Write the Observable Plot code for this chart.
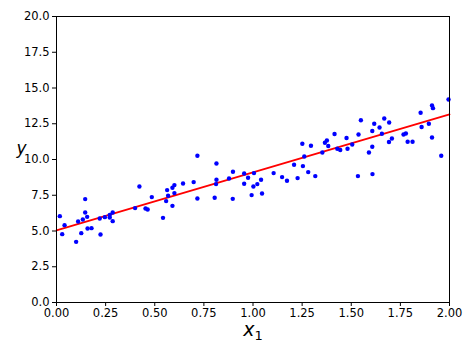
<!DOCTYPE html>
<html>
<head>
<meta charset="utf-8">
<script src="https://cdn.jsdelivr.net/npm/d3@7"></script>
<script src="https://cdn.jsdelivr.net/npm/@observablehq/plot@0.6"></script>
<style>
  body { margin: 0; background: white; }
</style>
</head>
<body>
<div id="chart"></div>
<script>
const xVals = [0.017,0.029,0.041,0.10,0.11,0.126,0.134,0.146,0.146,0.156,0.158,0.178,0.22,0.224,0.246,0.271,0.271,0.286,0.286,0.40,0.422,0.453,0.464,0.485,0.542,0.558,0.568,0.563,0.59,0.59,0.60,0.60,0.644,0.698,0.717,0.717,
0.805,0.814,0.814,0.812,0.878,0.897,0.898,0.955,0.955,0.975,0.993,1.002,1.005,1.022,1.041,1.046,1.105,1.148,1.173,1.209,1.227,1.251,1.254,1.261,1.281,1.295,1.317,1.353,1.366,1.376,1.383,
1.415,1.429,1.444,1.476,1.481,1.505,1.534,1.537,1.549,1.59,1.607,1.607,1.608,1.617,1.644,1.656,1.668,1.692,1.693,1.707,1.766,1.778,1.787,1.812,1.853,1.858,1.895,1.911,1.916,1.911,1.958,1.995];
const yVals = [6.04,4.78,5.41,4.24,5.66,4.85,5.80,7.23,6.29,5.99,5.17,5.20,5.87,4.76,5.97,6.13,5.94,6.29,5.69,6.60,8.11,6.57,6.50,7.37,5.92,7.09,7.46,7.86,6.76,8.02,8.21,7.65,8.32,8.42,10.26,7.27,
7.32,9.72,8.58,8.28,8.67,7.25,9.14,9.02,8.30,8.72,7.51,8.11,9.05,8.28,8.58,7.62,9.05,8.77,8.51,9.63,8.70,11.10,9.54,10.21,9.12,10.96,8.84,10.49,11.17,11.33,10.94,
11.78,10.75,10.66,11.50,10.75,11.05,8.84,11.75,12.75,10.49,10.89,11.99,8.98,12.50,12.24,11.80,12.87,11.22,12.59,11.47,11.75,11.82,11.24,11.24,13.27,12.27,12.50,13.78,13.59,11.54,10.26,14.20];
const lineX = [0, 2];
const lineY = [5.05, 13.15];
const xTicks = [0, 0.25, 0.5, 0.75, 1, 1.25, 1.5, 1.75, 2];
const xTickLabels = ["0.00","0.25","0.50","0.75","1.00","1.25","1.50","1.75","2.00"];
const yTicks = [0, 2.5, 5, 7.5, 10, 12.5, 15, 17.5, 20];
const yTickLabels = ["0.0","2.5","5.0","7.5","10.0","12.5","15.0","17.5","20.0"];

const points = xVals.map((x, i) => ({x, y: yVals[i]}));
const line = lineX.map((x, i) => ({x, y: lineY[i]}));

const chart = Plot.plot({
  width: 474,
  height: 355,
  marginLeft: 56,
  marginRight: 25,
  marginTop: 16,
  marginBottom: 53,
  style: {fontFamily: "DejaVu Sans", fontSize: "11.5px", color: "black", background: "white", overflow: "visible"},
  x: {domain: [0, 2]},
  y: {domain: [0, 20]},
  marks: [
    Plot.axisX({ticks: xTicks, tickFormat: (d, i) => xTickLabels[i], tickSize: 4, tickPadding: 2, label: null, stroke: "black", fill: "black"}),
    Plot.axisY({ticks: yTicks, tickFormat: (d, i) => yTickLabels[i], tickSize: 4, tickPadding: 3, label: null, stroke: "black", fill: "black"}),
    Plot.line(line, {x: "x", y: "y", stroke: "red", strokeWidth: 1.8}),
    Plot.dot(points, {x: "x", y: "y", r: 2.2, fill: "blue", stroke: "none"}),
    Plot.frame({stroke: "black", strokeWidth: 1}),
    Plot.text(["y"], {frameAnchor: "left", dx: -40, dy: -11, text: d => d, fontSize: 17, fontStyle: "italic", fill: "black", className: "ylab"}),
    Plot.text(["x1"], {frameAnchor: "bottom", dy: 33, text: d => d, fontSize: 19, fill: "black", className: "xlab"})
  ]
});
document.getElementById("chart").append(chart);

const xl = d3.select(chart).select(".xlab text");
xl.text(null);
xl.append("tspan").attr("font-style", "italic").text("x");
xl.append("tspan").attr("font-size", 13).attr("dy", 4).text("1");
</script>
</body>
</html>
